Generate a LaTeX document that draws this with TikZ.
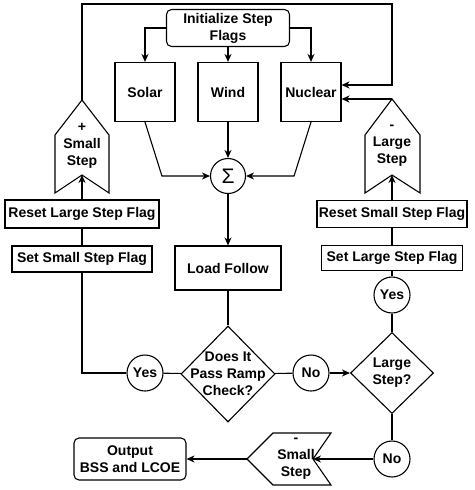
\documentclass[tikz,border=0pt]{standalone}
\usepackage{fontspec}
\setmainfont{Liberation Sans}
\usetikzlibrary{arrows.meta, shapes.geometric, positioning, calc}

\begin{document}
\begin{tikzpicture}[x=1pt, y=-1pt, >={Stealth[length=8pt,width=7pt]}, line width=1.1pt,
    font=\bfseries\fontsize{14}{17}\selectfont,
    box/.style={draw, inner sep=0pt, align=center},
    rbox/.style={box, rounded corners=5pt},
    dot/.style={draw, circle, inner sep=0pt, minimum size=36pt},
    decide/.style={draw, diamond, inner sep=0pt}]

    \useasboundingbox (0,0) rectangle (474,490);

    % 1. start box and the three sources
    \node[rbox, minimum width=123pt, minimum height=37pt] (init) at (228,28) {Initialize Step\\Flags};
    \node[box, minimum width=60pt, minimum height=59pt] (solar) at (145,92) {Solar};
    \node[box, minimum width=60pt, minimum height=59pt] (wind) at (228,92) {Wind};
    \node[box, minimum width=60pt, minimum height=59pt] (nuclear) at (311,92) {Nuclear};
    \node[dot, minimum size=35pt, font=\fontsize{21}{21}\selectfont] (sum) at (228,176) {Σ};

    \draw[->] (init.west) -| (solar.north);
    \draw[->] (init) -- (wind);
    \draw[->] (init.east) -| (nuclear.north);
    \draw[->] (solar.south) -- ([xshift=-48pt]sum.west) -- (sum.west);
    \draw[->] (wind) -- (sum);
    \draw[->] (nuclear.south) -- ([xshift=48pt]sum.east) -- (sum.east);

    % 2. load follow and ramp check
    \node[box, minimum width=106pt, minimum height=44pt] (loadf) at (228,268) {Load Follow};
    \node[decide, minimum width=94pt, minimum height=96pt,
          label={[align=center]center:Does It\\Pass Ramp\\Check?}] (ramp) at (228,374) {};
    \node[dot] (yesL) at (145,373) {Yes};
    \node[dot] (noM) at (311,373) {No};
    \node[decide, minimum width=83pt, minimum height=81pt,
          label={[align=center]center:Large\\Step?}] (large) at (392,373) {};
    \node[dot] (yesR) at (392,295) {Yes};
    \node[dot] (noB) at (392,459) {No};

    \draw[->] (sum) -- (loadf);
    \draw (loadf) -- (ramp);
    \draw (ramp) -- (yesL);
    \draw (ramp) -- (noM);
    \draw[->] (noM) -- (large);
    \draw (large) -- (yesR);
    \draw (large) -- (noB);

    % 3. left branch: small step
    \node[box, minimum width=154pt, minimum height=28pt] (resetL) at (82,214) {Reset Large Step Flag};
    \node[box, minimum width=140pt, minimum height=26pt] (setL) at (82,259) {Set Small Step Flag};
    \coordinate (sTip) at (82,100);
    \coordinate (sNotch) at (82,175);
    \draw (sTip) -- (109,135) -- (109,193) -- (sNotch) -- (55,193) -- (55,135) -- cycle;
    \node[align=center] (smallUp) at (82,146) {+\\Small\\Step};

    \draw (yesL) -| (setL);
    \draw (setL) -- (resetL);
    \draw[->] (resetL) -- (sNotch);

    % 4. right branch: large step
    \node[box, minimum width=150pt, minimum height=27pt] (resetR) at (392,214) {Reset Small Step Flag};
    \node[box, minimum width=141pt, minimum height=25pt] (setR) at (392,258) {Set Large Step Flag};
    \coordinate (lTip) at (392,99);
    \coordinate (lNotch) at (392,175);
    \draw (lTip) -- (420,135) -- (420,193) -- (lNotch) -- (365,193) -- (365,135) -- cycle;
    \node[align=center] (largeUp) at (392,146) {-\\Large\\Step};

    \draw (yesR) -- (setR);
    \draw (setR) -- (resetR);
    \draw[->] (resetR) -- (lNotch);

    % 5. loops back to the sources
    \coordinate (loopL) at (82,4);
    \coordinate (loopR) at (392,4);
    \draw[->] (sTip) -- (loopL) -- (loopR) |- ([yshift=7pt]nuclear.east);
    \draw[->] (lTip) -- (lTip -| nuclear.east);

    % 6. small step down and output
    \coordinate (bTip) at (247,459);
    \coordinate (bNotch) at (313,459);
    \draw (bTip) -- (273,433) -- (331,433) -- (bNotch) -- (331,485) -- (273,485) -- cycle;
    \node[align=center] (smallDown) at (296,459) {-\\Small\\Step};
    \node[rbox, minimum width=112pt, minimum height=42pt] (output) at (130,459) {Output\\BSS and LCOE};

    \draw[->] (noB) -- (bNotch);
    \draw[->] (bTip) -- (output);

\end{tikzpicture}
\end{document}
